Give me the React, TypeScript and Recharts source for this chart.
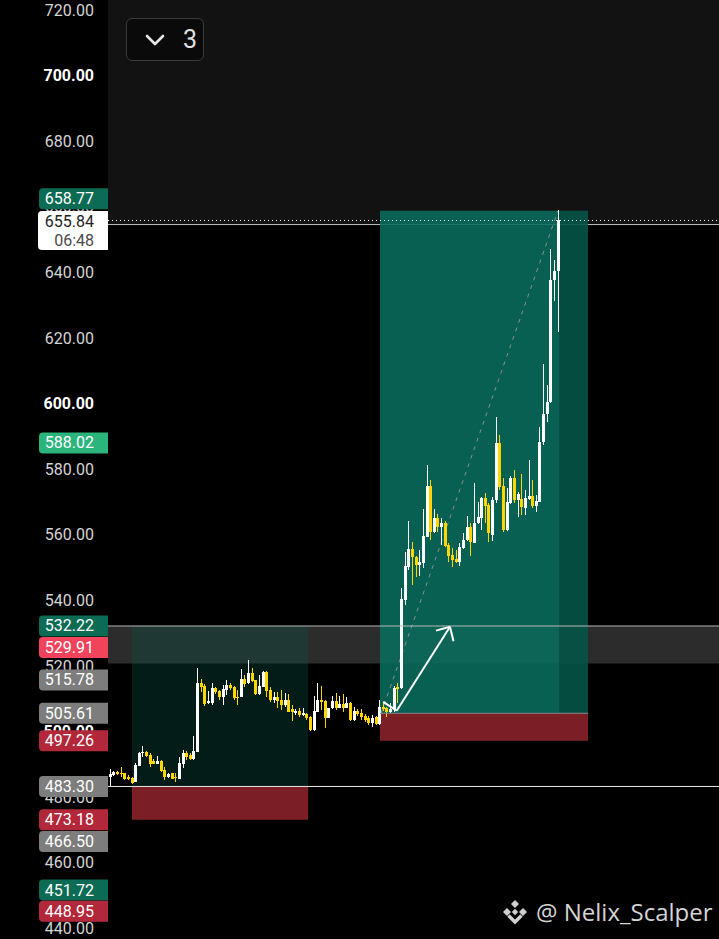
import { ComposedChart, Bar, XAxis, YAxis, ReferenceArea, ReferenceLine } from "recharts";

type Ohlc = [number, number, number, number];

// [open, high, low, close], one row per candle
const baseCandles: Ohlc[] = [
  [486.3, 488.5, 483.4, 487.0], [486.7, 488.1, 486.5, 487.7], [487.7, 487.9, 486.7, 487.1], [487.5, 489.1, 486.3, 487.0],
  [487.3, 487.5, 485.2, 485.7], [486.3, 486.7, 485.2, 485.7], [485.9, 486.3, 484.2, 484.4], [484.7, 490.5, 484.6, 489.8],
  [489.5, 493.8, 489.4, 493.4], [493.4, 495.6, 492.4, 493.9], [493.8, 494.1, 492.4, 492.6], [492.9, 493.4, 489.3, 490.3],
  [491.0, 491.6, 490.1, 490.3], [490.3, 492.6, 490.1, 491.0], [491.0, 491.4, 487.8, 488.0], [488.3, 489.1, 485.2, 486.3],
  [486.3, 487.5, 485.9, 487.1], [487.3, 487.5, 485.5, 485.7], [486.3, 487.3, 484.7, 485.9], [485.7, 492.4, 485.6, 490.5],
  [490.1, 494.4, 488.8, 493.4], [493.4, 494.1, 491.4, 492.4], [492.9, 493.4, 491.4, 491.7], [491.6, 498.7, 491.4, 494.1],
  [493.9, 519.3, 493.8, 514.9], [514.9, 516.0, 512.2, 513.7], [513.9, 514.5, 507.8, 508.4], [508.8, 512.5, 508.4, 509.3],
  [508.8, 514.9, 508.0, 513.2], [513.2, 513.7, 511.5, 512.2], [512.5, 512.7, 509.6, 510.5], [510.5, 514.2, 508.2, 512.9],
  [512.7, 515.7, 511.2, 514.2], [514.2, 514.9, 512.7, 513.2], [513.7, 513.9, 509.8, 510.2], [510.7, 512.7, 508.2, 510.2],
  [510.6, 519.0, 510.5, 516.0], [516.0, 517.3, 513.7, 514.4], [514.7, 521.8, 514.6, 518.0], [518.0, 519.3, 515.2, 515.5],
  [515.7, 515.9, 511.2, 511.5], [511.5, 517.3, 511.2, 513.9], [513.7, 518.6, 513.6, 518.2], [518.2, 518.4, 510.7, 512.5],
  [512.7, 513.7, 509.1, 509.8], [509.8, 512.2, 508.6, 510.5], [510.5, 512.2, 507.1, 509.4], [509.6, 512.7, 506.6, 508.0],
  [508.0, 511.9, 507.6, 509.8], [509.8, 511.5, 506.0, 506.1], [506.8, 508.1, 503.3, 506.0], [505.8, 506.9, 505.1, 506.4],
  [506.4, 507.1, 504.6, 505.1], [505.2, 507.3, 504.8, 505.6], [505.4, 505.8, 503.5, 504.1], [504.6, 504.8, 500.3, 500.5],
  [500.5, 510.9, 500.3, 506.3], [506.1, 514.7, 506.0, 509.6],
];

const driftCandles: Ohlc[] = [
  [509.6, 513.9, 506.6, 509.0], [509.3, 509.6, 501.0, 504.3], [504.3, 507.3, 504.1, 507.1], [507.1, 510.9, 507.0, 509.3],
  [509.3, 511.7, 506.6, 507.1], [507.3, 510.9, 507.1, 508.3], [508.4, 511.4, 506.1, 507.3], [507.3, 510.5, 507.1, 508.8],
  [508.8, 509.1, 503.4, 503.5], [503.5, 507.6, 503.3, 506.3], [506.3, 506.8, 504.8, 505.4], [505.8, 506.8, 503.7, 504.6],
  [504.8, 505.4, 503.0, 503.7], [504.3, 504.8, 502.0, 502.7], [502.7, 505.1, 501.3, 504.3], [504.4, 504.8, 502.1, 502.2],
  [502.2, 509.8, 502.1, 507.5], [507.6, 509.1, 506.4, 506.9], [507.3, 507.6, 504.6, 506.1], [506.1, 508.6, 505.8, 506.9],
  [506.6, 513.9, 506.1, 513.2], [513.7, 514.9, 508.8, 513.1], [513.2, 543.7, 513.1, 540.3],
];

const rallyCandles: Ohlc[] = [
  [540.1, 554.7, 538.6, 550.6], [550.3, 564.2, 549.3, 555.7], [555.7, 557.9, 544.7, 553.3], [553.3, 553.5, 547.3, 550.8],
  [550.8, 555.4, 547.5, 551.6], [551.5, 567.8, 549.8, 559.6], [559.5, 581.3, 559.2, 574.9], [574.9, 576.7, 558.4, 561.0],
  [561.0, 567.8, 560.5, 565.0], [565.0, 566.4, 561.0, 562.5], [562.5, 565.0, 556.9, 563.7], [563.7, 564.3, 556.4, 556.7],
  [556.9, 557.4, 551.8, 553.6], [553.9, 555.9, 550.1, 552.3], [552.6, 555.4, 551.3, 551.7], [551.8, 557.4, 550.6, 556.4],
  [555.9, 560.5, 555.8, 558.4], [558.4, 565.7, 558.2, 562.5], [562.5, 563.5, 553.6, 557.7], [557.6, 575.9, 557.4, 563.5],
  [563.5, 570.1, 563.3, 565.3], [565.2, 571.6, 561.5, 571.3], [571.3, 572.7, 563.5, 568.9], [569.1, 569.6, 557.7, 560.5],
  [560.0, 571.6, 558.2, 570.6], [570.6, 596.0, 569.6, 588.1], [588.1, 590.4, 573.7, 574.7], [574.9, 577.2, 561.0, 561.5],
  [561.5, 574.2, 561.3, 570.1], [569.8, 577.9, 569.4, 577.4], [577.4, 579.8, 569.6, 570.6], [570.6, 573.2, 565.5, 572.4],
  [571.0, 578.5, 566.0, 568.4], [568.3, 573.7, 566.1, 571.1], [570.9, 582.8, 570.6, 571.8], [571.8, 576.7, 568.3, 568.9],
  [568.9, 572.1, 567.1, 570.3], [570.1, 592.8, 570.0, 588.2], [588.2, 612.1, 587.4, 596.7], [596.7, 605.7, 594.5, 600.4],
  [600.4, 647.1, 600.3, 637.7], [637.7, 643.8, 631.4, 640.4], [640.4, 659.0, 621.9, 655.84],
];

const priceTicks = [720, 700, 680, 660, 640, 620, 600, 580, 560, 540, 520, 500, 480, 460, 440];
const boldTicks = [700, 600, 500];

// price tags on the axis
const tagValues = [658.77, 588.02, 532.22, 529.91, 515.78, 505.61, 497.26, 483.3, 473.18, 466.5, 451.72, 448.95];
const tagKinds = ["target", "mark", "target", "alert", "level", "level", "stop", "level", "stop", "level", "target", "stop"];
const lastPrice = 655.84;
const countdown = "06:48";

// long position drawings (x in bar index, y in price)
const firstLong = { start: 6.04, end: 54.4, target: 532.22, entry: 483.3, stop: 473.18 };
const secondLong = { start: 74.13, end: 131.25, lastBar: 123.3, target: 658.77, entry: 505.61, stop: 497.26 };
const zoneBand = [520.8, 532.22];
const upperShadeFrom = 654.6;
const arrowPoints = [[75.0, 509.1], [78.7, 506.4], [93.35, 531.98]];
const arrowBarbs = [[89.5, 530.8], [94.3, 527.6]];

const candles = [...baseCandles, ...driftCandles, ...rallyCandles].map(([o, h, l, c], i) => ({ i, o, h, l, c }));

const PRICE_MIN = 436.8;
const PRICE_MAX = 723.05;
const IDX_MIN = -0.55;
const IDX_MAX = 167.2;
const UP = "#ffffff";
const DOWN = "#ffd600";
const FONT = "Roboto, 'Noto Sans', sans-serif";

const tagFill: Record<string, string> = {
  target: "#0b6b54",
  mark: "#2bb47c",
  alert: "#f2435c",
  level: "#7d7d7d",
  stop: "#b2283a",
};
// tags pushed apart where they would collide
const tagNudge: Record<number, number> = { 658.77: -12, 529.91: 14, 448.95: 12 };

function Candle(props: any) {
  const { x, y, width, height, payload } = props;
  if (!payload || x == null || y == null) return null;
  const top = Math.min(y, y + height);
  const span = Math.abs(height);
  const { o, h, l, c } = payload;
  const yOf = (p: number) => top + ((h - p) / (h - l)) * span;
  const color = c >= o ? UP : DOWN;
  const cx = Math.round(x + width / 2) + 0.5;
  const bTop = yOf(Math.max(o, c));
  const bBot = yOf(Math.min(o, c));
  return (
    <g shapeRendering="crispEdges">
      <line x1={cx} x2={cx} y1={top} y2={top + span} stroke={color} strokeWidth={1} />
      <rect x={cx - 1.5} y={bTop} width={3} height={Math.max(1, bBot - bTop)} fill={color} />
    </g>
  );
}

function PriceTick(props: any) {
  const { y, payload } = props;
  const v = payload.value as number;
  const bold = boldTicks.includes(v);
  return (
    <text x={94} y={y} textAnchor="end" dominantBaseline="central" fontFamily={FONT} fontSize={16}
      fontWeight={bold ? 700 : 400} fill={bold ? "#ffffff" : "#d4d4d4"}>
      {v.toFixed(2)}
    </text>
  );
}

function tagShape(x0: number, top: number, bottom: number) {
  const r = 4;
  const x1 = 108;
  return `M${x0 + r},${top} H${x1} V${bottom} H${x0 + r} Q${x0},${bottom} ${x0},${bottom - r} V${top + r} Q${x0},${top} ${x0 + r},${top} Z`;
}

const renderTag = (value: number, kind: string) => (props: any) => {
  const vb = props.viewBox;
  if (!vb) return null;
  const cy = vb.y + (tagNudge[value] ?? 0);
  return (
    <g>
      <path d={tagShape(39, cy - 10.5, cy + 10.5)} fill={tagFill[kind]} />
      <text x={94} y={cy} textAnchor="end" dominantBaseline="central" fontFamily={FONT} fontSize={16} fill="#ffffff">
        {value.toFixed(2)}
      </text>
    </g>
  );
};

const renderLastTag = (props: any) => {
  const vb = props.viewBox;
  if (!vb) return null;
  const cy = vb.y + 1.5;
  return (
    <g>
      <path d={tagShape(38, cy - 11, cy + 28)} fill="#ffffff" />
      <text x={94} y={cy} textAnchor="end" dominantBaseline="central" fontFamily={FONT} fontSize={16} fill="#1e1e1e">
        {lastPrice.toFixed(2)}
      </text>
      <text x={94} y={cy + 18.5} textAnchor="end" dominantBaseline="central" fontFamily={FONT} fontSize={16} fill="#4a4a4a">
        {countdown}
      </text>
    </g>
  );
};

function BinanceMark() {
  const d = (cx: number, cy: number, s: number) => `M${cx},${cy - s} L${cx + s},${cy} L${cx},${cy + s} L${cx - s},${cy} Z`;
  return (
    <svg width={26} height={26} viewBox="0 0 26 26" style={{ position: "absolute", left: 502, top: 899 }}>
      <path d={d(13, 13, 3.2)} fill="#d0d0d0" />
      <path d={d(13, 5, 4)} fill="#d0d0d0" />
      <path d={d(5, 13, 4)} fill="#d0d0d0" />
      <path d={d(21, 13, 4)} fill="#d0d0d0" />
      <path d="M6.5,16.5 L13,23 L19.5,16.5" fill="none" stroke="#d0d0d0" strokeWidth={3.4} strokeLinejoin="miter" />
    </svg>
  );
}

export default function App() {
  return (
    <div style={{ position: "absolute", left: 0, top: 0, width: 719, height: 939, background: "#000", overflow: "hidden" }}>
      <ComposedChart width={719} height={939} data={candles} margin={{ top: 0, right: 0, bottom: 0, left: 0 }}>
        <XAxis type="number" dataKey="i" domain={[IDX_MIN, IDX_MAX]} allowDataOverflow hide />
        <YAxis type="number" domain={[PRICE_MIN, PRICE_MAX]} allowDataOverflow ticks={priceTicks} interval={0}
          width={108} axisLine={false} tickLine={false} tick={<PriceTick />} />

        <ReferenceArea y1={upperShadeFrom} y2={PRICE_MAX} fill="#121212" fillOpacity={1} stroke="none" zIndex={1} />
        <ReferenceArea y1={zoneBand[0]} y2={zoneBand[1]} fill="#2c2c2c" fillOpacity={1} stroke="none" zIndex={2} />
        <ReferenceLine y={upperShadeFrom} stroke="#bdbdbd" strokeWidth={1} zIndex={3} />

        <ReferenceArea x1={firstLong.start} x2={firstLong.end} y1={firstLong.entry} y2={firstLong.target}
          fill="rgb(8,80,65)" fillOpacity={0.35} stroke="none" zIndex={4} />
        <ReferenceArea x1={firstLong.start} x2={firstLong.end} y1={firstLong.stop} y2={firstLong.entry}
          fill="#7b1e26" fillOpacity={1} stroke="none" zIndex={4} />
        <ReferenceArea x1={secondLong.start} x2={secondLong.end} y1={secondLong.entry} y2={secondLong.target}
          fill="rgb(8,109,92)" fillOpacity={0.88} stroke="none" zIndex={5} />
        <ReferenceArea x1={secondLong.lastBar} x2={secondLong.end} y1={secondLong.entry} y2={secondLong.target}
          fill="#000000" fillOpacity={0.2} stroke="none" zIndex={6} />
        <ReferenceArea x1={secondLong.start} x2={secondLong.end} y1={secondLong.stop} y2={secondLong.entry}
          fill="#7b1e26" fillOpacity={1} stroke="none" zIndex={6} />

        <ReferenceLine segment={[{ x: secondLong.start + 0.3, y: secondLong.entry }, { x: secondLong.lastBar - 0.3, y: secondLong.target }]}
          stroke="#8e8e8e" strokeWidth={1} strokeDasharray="4 5" zIndex={7} />

        <Bar dataKey={(d: any) => [d.l, d.h]} barSize={3} shape={<Candle />} isAnimationActive={false} zIndex={8} />

        <ReferenceLine y={zoneBand[1]} stroke="#b8b8b8" strokeWidth={1} zIndex={9} />
        <ReferenceLine y={firstLong.entry} stroke="#e8e8e8" strokeWidth={1} zIndex={9} />
        <ReferenceLine segment={[{ x: secondLong.start, y: secondLong.entry }, { x: secondLong.end, y: secondLong.entry }]}
          stroke="#8a8a8a" strokeWidth={1} zIndex={9} />
        <ReferenceLine y={lastPrice} stroke="#ffffff" strokeWidth={1} strokeDasharray="1 3" zIndex={10} />

        {arrowPoints.slice(1).map((p, k) => (
          <ReferenceLine key={`arrow-${k}`} segment={[{ x: arrowPoints[k][0], y: arrowPoints[k][1] }, { x: p[0], y: p[1] }]}
            stroke="#ffffff" strokeWidth={2} zIndex={11} />
        ))}
        {arrowBarbs.map((b, k) => (
          <ReferenceLine key={`barb-${k}`} segment={[{ x: arrowPoints[2][0], y: arrowPoints[2][1] }, { x: b[0], y: b[1] }]}
            stroke="#ffffff" strokeWidth={2} zIndex={11} />
        ))}

        {tagValues.map((v, k) => (
          <ReferenceLine key={`tag-${v}`} y={v} stroke="none" zIndex={2500} label={renderTag(v, tagKinds[k])} />
        ))}
        <ReferenceLine y={lastPrice} stroke="none" zIndex={2500} label={renderLastTag} />
      </ComposedChart>

      <div style={{ position: "absolute", left: 126, top: 18, width: 78, height: 43, boxSizing: "border-box",
        border: "1px solid #3a3a3a", borderRadius: 6, background: "#0a0a0a" }}>
        <svg width={20} height={14} style={{ position: "absolute", left: 18, top: 14 }}>
          <path d="M2,3 L10,11 L18,3" fill="none" stroke="#e6e6e6" strokeWidth={2.6} strokeLinecap="round" strokeLinejoin="round" />
        </svg>
        <span style={{ position: "absolute", left: 56, top: 6, fontFamily: FONT, fontSize: 25, color: "#e0e0e0" }}>3</span>
      </div>

      <BinanceMark />
      <span style={{ position: "absolute", left: 536, top: 895, fontFamily: "'Open Sans', 'Noto Sans', sans-serif",
        fontSize: 24, lineHeight: "normal", color: "#d4d4d4", whiteSpace: "nowrap" }}>
        @ Nelix_Scalper
      </span>
    </div>
  );
}
